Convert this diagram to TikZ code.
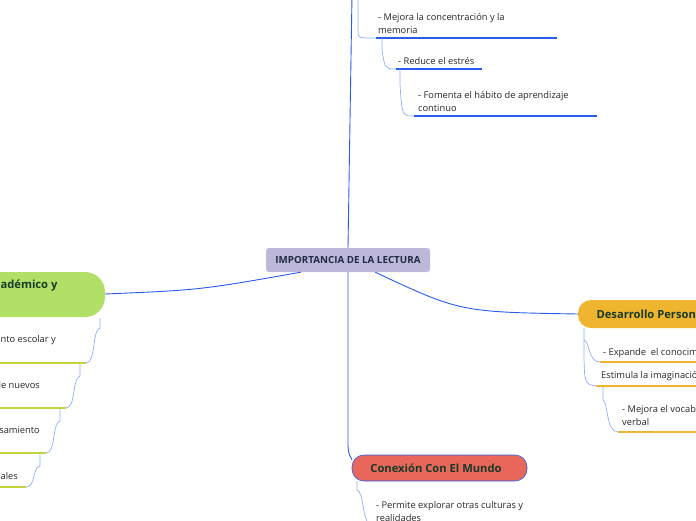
\documentclass[tikz,border=0pt]{standalone}
\usepackage{fontspec}
\setmainfont{Open Sans}
\definecolor{mainblue}{HTML}{2A5BF0}
\definecolor{subblue}{HTML}{8FAEF5}
\definecolor{lav}{HTML}{BDB7DA}
\definecolor{navy}{HTML}{1F2A44}
\definecolor{lgreen}{HTML}{B2E067}
\definecolor{ygreen}{HTML}{C4D43A}
\definecolor{orng}{HTML}{F0B52E}
\definecolor{redn}{HTML}{E8675A}
\definecolor{dgreen}{HTML}{163A2A}
\tikzset{
 item/.style={font=\fontsize{9.3}{13}\selectfont, text=black!85, anchor=west, align=left, inner sep=0pt},
 mainline/.style={draw=mainblue, line width=0.9pt},
 subline/.style={draw=subblue, line width=0.7pt},
 headfont/.style={font=\fontsize{11.2}{13}\selectfont\bfseries, text=dgreen}
}
\begin{document}
\begin{tikzpicture}[x=1pt,y=-1pt]
\useasboundingbox (0,0) rectangle (696,520);
% center
\node[fill=lav, rounded corners=3pt, minimum width=164pt, minimum height=24pt, font=\fontsize{9.8}{11}\selectfont\bfseries, text=navy] (c) at (348,260) {IMPORTANCIA DE LA LECTURA};
% heads
\draw[fill=lgreen, draw=none, rounded corners=20pt] (-60,272) rectangle (105,317);
\node[headfont, anchor=east] (acad) at (61,286) {Desarrollo Académico y};
\coordinate (acadR) at (105,294);
\draw[fill=orng, draw=none, rounded corners=13pt] (578,300) rectangle (760,328);
\node[headfont, anchor=west] (pers) at (593,314) {Desarrollo Personal};
\coordinate (persL) at (578,314);
\draw[fill=redn, draw=mainblue, line width=0.6pt, rounded corners=12pt] (352,455) rectangle (527,481);
\node[headfont] (mundo) at (436,468) {Conexión Con El Mundo};
\coordinate (mundoT) at (352,460);
\coordinate (top) at (352,-5);
% main connectors
\draw[mainline] (c.south west) ++(35,0) coordinate (cl) .. controls (200,290) .. (acadR);
\draw[mainline] (c.south east) ++(-55,0) coordinate (cr) .. controls (460,312) .. (persL);
\draw[mainline] (348,272) -- (348,440) .. controls (348,452) .. (mundoT);
\draw[mainline] (348,248) .. controls (350,120) .. (top);
% top items
\node[item] (t1) at (378,23) {- Mejora la concentración y la\\memoria};
\draw[mainblue, line width=1.4pt] (376,38) -- (557,38);
\node[item] (t2) at (398,61) {- Reduce el estrés};
\draw[mainblue, line width=1.4pt] (396,69) -- (482,69);
\node[item] (t3) at (418,101) {- Fomenta el hábito de aprendizaje\\continuo};
\draw[mainblue, line width=1.4pt] (414,116) -- (597,116);
\draw[subline] (358,0) -- (358,32) .. controls (358,38) .. (376,38);
\draw[subline] (382,38) -- (382,50) .. controls (385,69) .. (396,69);
\draw[subline] (400,69) -- (400,84) .. controls (402,116) .. (414,116);
% left items
\node[item, anchor=east] (l1) at (56,340) {- Mejora el rendimiento escolar y};
\draw[ygreen, line width=1.4pt] (-5,363) -- (86,363);
\node[item, anchor=east] (l2) at (40,386) {- Facilita la adquisición de nuevos};
\draw[ygreen, line width=1.4pt] (-5,408) -- (66,408);
\node[item, anchor=east] (l3) at (40,431) {- Desarrolla el pensamiento};
\draw[ygreen, line width=1.4pt] (-5,453) -- (46,453);
\node[item, anchor=east] (l4) at (18,477) {- Mejora las habilidades sociales};
\draw[ygreen, line width=1.4pt] (-5,487) -- (26,487);
\draw[subline] (100,318) -- (100,328) .. controls (92,330) and (96,363) .. (86,363);
\draw[subline] (80,364) -- (80,376) .. controls (72,378) and (76,408) .. (66,408);
\draw[subline] (60,409) -- (60,421) .. controls (52,423) and (56,453) .. (46,453);
\draw[subline] (40,454) -- (40,466) .. controls (32,468) and (36,487) .. (26,487);
% right items
\node[item] (r1) at (603,353) {- Expande \ el conocimiento};
\draw[orng, line width=1.4pt] (600,362) -- (700,362);
\node[item] (r2) at (601,376) {Estimula la imaginación};
\draw[orng, line width=1.4pt] (596,386) -- (700,386);
\node[item] (r3) at (622,416) {- Mejora el vocabulario\\verbal};
\draw[orng, line width=1.4pt] (618,432) -- (700,432);
\draw[subline] (584,328) -- (584,340) .. controls (590,342) and (588,362) .. (600,362);
\draw[subline] (584,340) .. controls (584,384) .. (596,386);
\draw[subline] (603,387) -- (603,400) .. controls (608,402) and (606,432) .. (618,432);
% bottom item
\node[item] (b1) at (376,512) {- Permite explorar otras culturas y\\realidades};
\draw[subline] (357,481) -- (357,490) .. controls (364,492) and (362,520) .. (370,525);
\end{tikzpicture}
\end{document}
